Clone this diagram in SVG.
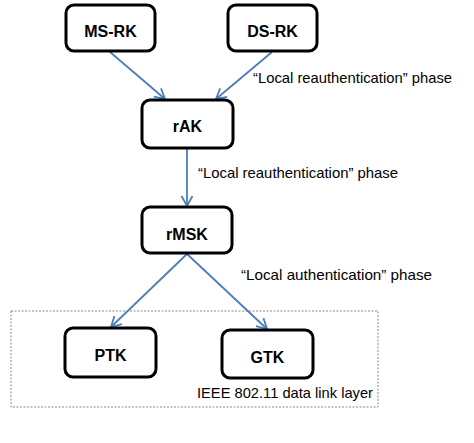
<svg xmlns="http://www.w3.org/2000/svg" width="474" height="443" viewBox="0 0 474 443">
<defs>
<style>
.node rect{fill:#fff;stroke:#000;stroke-width:3}
.node text{font-family:"Liberation Sans",Arial,sans-serif;font-weight:bold;font-size:16px;text-anchor:middle;fill:#000}
.lbl{font-family:"Liberation Sans",Arial,sans-serif;font-size:15px;fill:#000}
.edge{stroke:#4a7ebb;stroke-width:1.8;fill:none}
</style>
<marker id="ah" markerUnits="userSpaceOnUse" markerWidth="14" markerHeight="14" refX="11" refY="6" orient="auto">
<path d="M1,0.5 L11,6 L1,11.5" fill="none" stroke="#4a7ebb" stroke-width="1.8"/>
</marker>
</defs>
<rect width="474" height="443" fill="#fff"/>
<rect id="layer" x="11" y="311" width="367" height="96" fill="none" stroke="#888" stroke-width="1" stroke-dasharray="2,1.5"/>
<g id="connectors">
<line class="edge" x1="110" y1="52" x2="165" y2="99" marker-end="url(#ah)"/>
<line class="edge" x1="272" y1="52" x2="216" y2="99" marker-end="url(#ah)"/>
<line class="edge" x1="187" y1="149" x2="187" y2="206" marker-end="url(#ah)"/>
<line class="edge" x1="187" y1="254" x2="111" y2="327" marker-end="url(#ah)"/>
<line class="edge" x1="187" y1="254" x2="267" y2="329" marker-end="url(#ah)"/>
</g>
<g id="ms-rk" class="node"><rect x="66" y="5" width="89" height="46" rx="8"/><text x="110.5" y="37">MS-RK</text></g>
<g id="ds-rk" class="node"><rect x="228" y="5" width="89" height="46" rx="8"/><text x="272.5" y="37">DS-RK</text></g>
<g id="rak" class="node"><rect x="142" y="100" width="91" height="48" rx="8"/><text x="187.5" y="132">rAK</text></g>
<g id="rmsk" class="node"><rect x="142" y="207" width="90" height="46" rx="8"/><text x="187" y="240">rMSK</text></g>
<g id="ptk" class="node"><rect x="65" y="328" width="91" height="49" rx="8"/><text x="110.5" y="361">PTK</text></g>
<g id="gtk" class="node"><rect x="222" y="330" width="91" height="48" rx="8"/><text x="267.5" y="363">GTK</text></g>
<text class="lbl" x="253" y="83" textLength="199" lengthAdjust="spacingAndGlyphs">“Local reauthentication” phase</text>
<text class="lbl" x="198" y="178" textLength="200" lengthAdjust="spacingAndGlyphs">“Local reauthentication” phase</text>
<text class="lbl" x="241" y="280" textLength="191" lengthAdjust="spacingAndGlyphs">“Local authentication” phase</text>
<text class="lbl" x="197" y="398" textLength="176" lengthAdjust="spacingAndGlyphs">IEEE 802.11 data link layer</text>
</svg>
